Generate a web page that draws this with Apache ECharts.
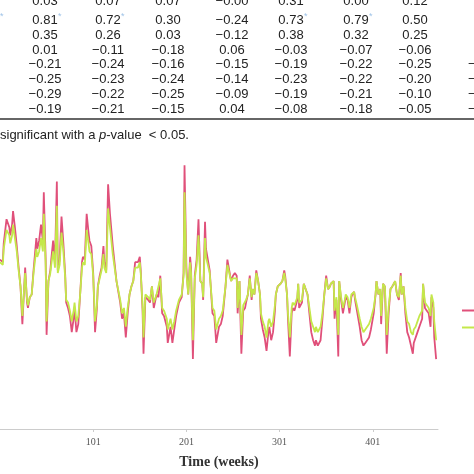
<!DOCTYPE html>
<html>
<head>
<meta charset="utf-8">
<script src="https://cdn.jsdelivr.net/npm/echarts@6/dist/echarts.min.js"></script>
<style>html,body{margin:0;padding:0;background:#fff}#chart{width:474px;height:474px}</style>
</head>
<body>
<div id="chart"></div>
<script>
// table rows visible at top of page
var tableTop = ['0.03','0.07','0.07','\u22120.00','0.31','0.00','0.12']
var tableRows = [
    ['0.81*','0.72*','0.30','\u22120.24','0.73*','0.79*','0.50'],
    ['0.35','0.26','0.03','\u22120.12','0.38','0.32','0.25'],
    ['0.01','\u22120.11','\u22120.18','0.06','\u22120.03','\u22120.07','\u22120.06'],
    ['\u22120.21','\u22120.24','\u22120.16','\u22120.15','\u22120.19','\u22120.22','\u22120.25'],
    ['\u22120.25','\u22120.23','\u22120.24','\u22120.14','\u22120.23','\u22120.22','\u22120.20'],
    ['\u22120.29','\u22120.22','\u22120.25','\u22120.09','\u22120.19','\u22120.21','\u22120.10'],
    ['\u22120.19','\u22120.21','\u22120.15','0.04','\u22120.08','\u22120.18','\u22120.05']
]

// chart series: week, observed, fitted
var weeks = [1,4,5,8,11,12,14,15,17,19,21,23,25,28,30,31,33,35,37,40,41,43,45,47,48,50,51,53,55,56,58,60,62,63,65,67,69,71,72,74,76,78,80,81,83,85,87,89,90,92,94,96,97,99,101,103,105,106,108,110,112,113,115,117,119,122,126,130,
    132,134,136,138,140,142,144,146,149,151,152,154,155,157,160,162,164,166,169,171,173,175,177,180,181,184,186,188,190,193,196,198,199,201,203,205,206,208,210,212,214,216,218,219,221,222,224,226,229,231,233,236,238,240,243,245,246,249,251,
    253,255,256,258,260,262,264,265,267,269,271,272,274,276,278,280,281,283,285,287,289,290,292,294,296,297,299,302,304,306,307,309,310,312,314,315,317,320,321,322,325,327,329,331,333,335,337,339,340,342,345,347,349,351,353,355,356,359,360,362,364,365,367,369,371,372,374,
    376,378,379,381,382,384,387,389,391,393,395,397,399,402,404,405,407,409,410,412,414,416,418,420,422,424,425,427,429,431,432,434,436,438,440,442,444,445,447,449,451,454,455,457,459,461,463,464,466,467,469]
var observed = [63,62,69,78,75,72,76,81,75,68,60,53,39,60,47,45,49,50,59,71,67,70,76,70,88,63,35,55,59,63,70,62,92,59,63,79,69,57,47,45,42,36,41,45,36,39,50,62,64,63,80,73,70,68,58,36,45,53,57,60,68,62,59,91,80,68,55,47,
    41,43,34,43,50,53,55,62,62,64,59,44,28,49,48,47,53,45,50,49,57,43,42,38,32,38,32,37,42,47,49,58,98,60,50,64,60,26,57,63,78,55,54,48,77,67,63,59,43,42,32,38,39,42,53,63,63,55,57,
    58,57,43,55,28,44,45,47,50,57,48,52,50,59,55,50,41,37,34,29,36,38,33,36,44,50,53,54,55,59,57,50,41,27,43,45,44,48,54,45,47,54,54,50,43,36,33,31,33,31,33,41,50,57,52,53,54,55,41,48,27,55,48,43,47,49,48,
    43,49,50,51,48,44,38,33,31,32,32,34,37,43,50,55,50,52,39,54,53,28,43,52,53,53,55,50,48,58,50,53,43,36,34,31,28,32,32,36,38,41,54,45,44,43,38,49,45,34,26]
var fitted = [62,61,67,74,72,69,72,76,71,66,59,53,42,58,48,46,49,50,58,67,64,66,71,66,80,61,40,55,58,61,66,60,83,58,61,73,66,56,48,47,44,40,44,47,40,42,50,60,62,61,74,69,66,65,57,40,46,53,56,59,65,60,58,82,75,65,55,48,
    43,45,38,45,50,53,55,60,60,62,58,46,34,50,49,48,53,47,50,50,56,45,44,41,37,41,37,40,44,48,50,57,88,58,50,62,58,33,56,61,72,55,54,49,71,64,61,58,45,44,37,41,42,44,53,61,61,55,56,
    56,56,45,55,35,46,46,48,50,56,49,52,50,58,55,50,43,40,38,34,40,41,38,40,46,50,53,54,55,58,56,50,43,34,45,47,46,49,54,47,48,54,54,50,45,40,38,36,38,36,38,43,50,56,52,53,54,55,44,49,35,55,49,45,48,50,49,
    45,50,50,51,49,46,41,38,36,37,37,39,41,45,50,55,50,52,42,54,53,35,45,52,53,53,55,50,49,57,50,53,45,40,39,36,35,37,38,40,42,44,54,47,46,45,42,50,47,40,33]

var colObserved = '#e0507a'
var colFitted = '#c4e84a'

var chartDom = document.getElementById('chart')
var myChart = echarts.init(chartDom)

var colX = [45,108,168,232,291,356,415]
var rowY = [-5,14,29,44,58,73,88,103]
var texts = []
function addRow(row, y){
    for (var i in row){
        var s = row[i]
        var star = s.indexOf('*') >= 0
        s = s.replace('*','')
        texts.push({type:'text', x:colX[i], y:y, style:{text:s, fill:'#222', font:'13px "Liberation Sans", sans-serif', textAlign:'center'}})
        if (star)
            texts.push({type:'text', x:colX[i]+13, y:y-2, style:{text:'*', fill:'#9fc3e8', font:'9px sans-serif'}})
    }
}
addRow(tableTop, rowY[0])
for (var r in tableRows){
    addRow(tableRows[r], rowY[+r+1])
    if (r >= 3) texts.push({type:'text', x:468, y:rowY[+r+1], style:{text:'\u2212', fill:'#222', font:'13px sans-serif'}})
}
texts.push({type:'text', x:0, y:12, style:{text:'*', fill:'#9fc3e8', font:'9px sans-serif'}})
texts.push({type:'rect', shape:{x:0, y:118, width:474, height:2}, style:{fill:'#666'}})
texts.push({type:'text', x:0, y:129, style:{
    text:'significant with a {i|p}-value  < 0.05.', fill:'#222', font:'13px "Liberation Sans", sans-serif',
    rich:{i:{fontStyle:'italic', fontSize:13, fontFamily:'Liberation Sans', fill:'#222'}}
}})

function pairs(vals){
    var out = []
    for (var i = 0; i < weeks.length; i++) out.push([weeks[i]-1, vals[i]])
    return out
}

option = {
    animation:false,
    grid:{left:-1, right:36, top:160, bottom:45},
    graphic:texts,
    legend:{
        orient:'vertical', left:457, top:300, itemGap:6, itemWidth:18,
        icon:'rect', itemHeight:2,
        textStyle:{fontSize:11},
        data:['Observed','Fitted']
    },
    xAxis:{
        type:'value', min:0, max:470, interval:100,
        name:'Time (weeks)', nameLocation:'middle', nameGap:26,
        nameTextStyle:{fontFamily:'Liberation Serif', fontWeight:'bold', fontSize:14, color:'#333'},
        axisLine:{lineStyle:{color:'#ccc'}},
        axisTick:{length:3, lineStyle:{color:'#ccc'}},
        splitLine:{show:false},
        axisLabel:{showMinLabel:false, showMaxLabel:false, fontFamily:'Liberation Serif', fontSize:10, color:'#555',
            formatter:function(v){ return String(v+1) }}
    },
    yAxis:{type:'value', min:0, max:100, show:false},
    series:[
        {name:'Observed', type:'line', data:pairs(observed), showSymbol:false, lineStyle:{color:colObserved, width:1.8}, itemStyle:{color:colObserved}},
        {name:'Fitted', type:'line', data:pairs(fitted), showSymbol:false, lineStyle:{color:colFitted, width:1.8}, itemStyle:{color:colFitted}}
    ]
}
option && myChart.setOption(option)
</script>
</body>
</html>
